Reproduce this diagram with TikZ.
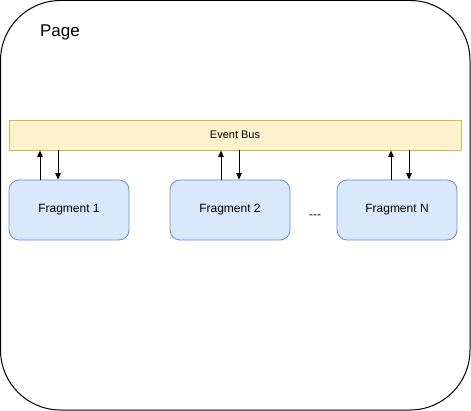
\documentclass[tikz,border=0pt]{standalone}
\usepackage{fontspec}
\setmainfont{Liberation Sans}
\usetikzlibrary{arrows.meta}
\definecolor{busfill}{HTML}{FFF2CC}
\definecolor{busdraw}{HTML}{D6B656}
\definecolor{fragfill}{HTML}{DAE8FC}
\definecolor{fragdraw}{HTML}{6C8EBF}
\tikzset{
  frag/.style={draw=fragdraw, fill=fragfill, rounded corners=10pt, minimum width=120pt, minimum height=60pt, inner sep=0pt, font=\fontsize{12}{14}\selectfont, line width=0.8pt},
  bus/.style={draw=busdraw, fill=busfill, minimum width=452pt, minimum height=30pt, inner sep=0pt, font=\fontsize{11}{13}\selectfont, line width=0.8pt},
  conn/.style={-{Triangle[length=6.5pt,width=5.5pt]}, line width=0.9pt}
}
\begin{document}
\begin{tikzpicture}[x=1pt,y=-1pt]
\useasboundingbox (0,0) rectangle (471,411);
\draw[line width=1pt, rounded corners=60pt] (0.5,0.5) rectangle (470,410);
\node[font=\fontsize{17}{19}\selectfont] (page) at (60,32) {Page};
\node[bus] (bus) at (235,135) {Event Bus};
\node[frag] (f1) at (69,210) {Fragment 1};
\node[frag] (f2) at (230,210) {Fragment 2};
\node[frag] (fn) at (397,210) {Fragment N};
\node[font=\fontsize{12}{14}\selectfont] (dots) at (315,217) {{-}{-}{-}};
\draw[conn] (f1.north -| 40,0) -- (bus.south -| 40,0);
\draw[conn] (bus.south -| 58,0) -- (f1.north -| 58,0);
\draw[conn] (f2.north -| 221,0) -- (bus.south -| 221,0);
\draw[conn] (bus.south -| 239,0) -- (f2.north -| 239,0);
\draw[conn] (fn.north -| 391,0) -- (bus.south -| 391,0);
\draw[conn] (bus.south -| 409,0) -- (fn.north -| 409,0);
\end{tikzpicture}
\end{document}
